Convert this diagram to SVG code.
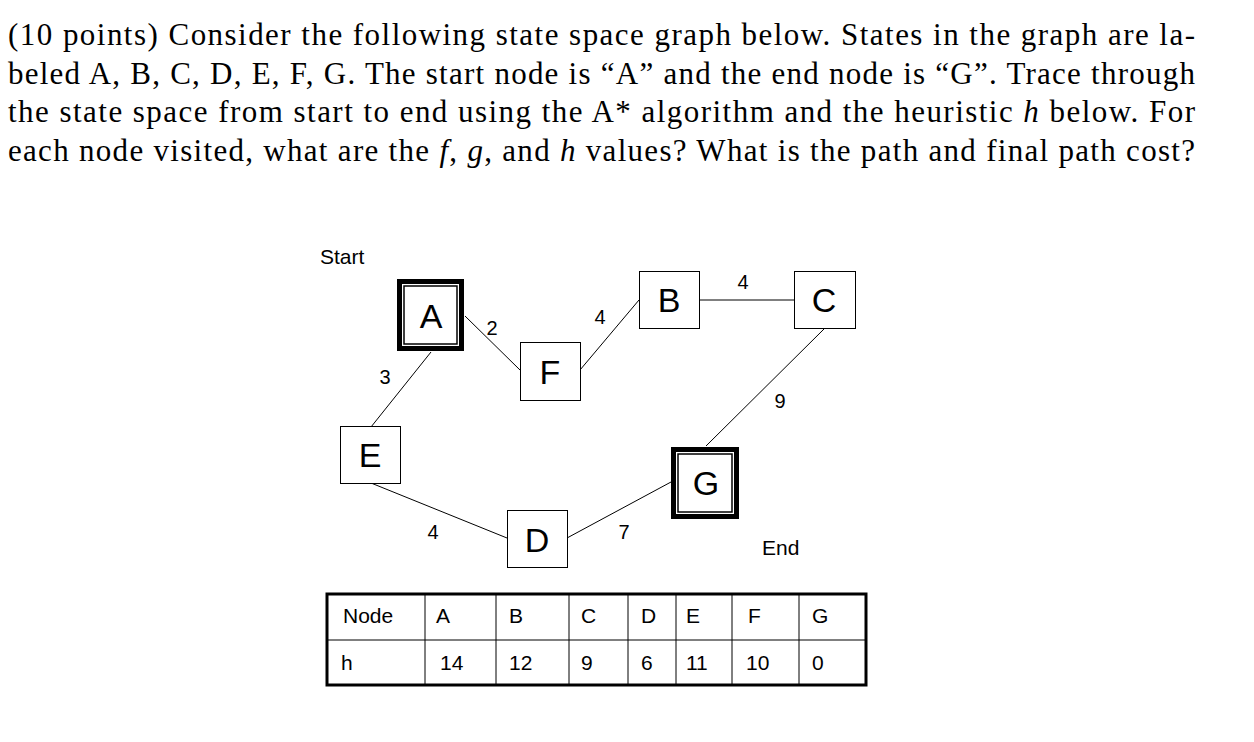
<svg xmlns="http://www.w3.org/2000/svg" width="1254" height="742" viewBox="0 0 1254 742">
<style>
.t{font-family:"Liberation Serif",serif;font-size:31px;fill:#000}
.s{font-family:"Liberation Sans",Arial,sans-serif;fill:#000}
.n{font-size:34px;text-anchor:middle}
.l{font-size:20px;text-anchor:middle}
.c{font-size:21px}
.box{fill:#fff;stroke:#000;stroke-width:1}
.dbl{fill:#fff;stroke:#000;stroke-width:5}
.in{fill:none;stroke:#000;stroke-width:1.5}
.e{stroke:#000;stroke-width:1;fill:none}
</style>
<rect width="1254" height="742" fill="#fff"/>
<text class="t" x="8" y="45" textLength="1187" lengthAdjust="spacing">(10 points) Consider the following state space graph below. States in the graph are la-</text>
<text class="t" x="8" y="84" textLength="1187" lengthAdjust="spacing">beled A, B, C, D, E, F, G. The start node is “A” and the end node is “G”. Trace through</text>
<text class="t" x="8" y="122" textLength="1187" lengthAdjust="spacing">the state space from start to end using the A* algorithm and the heuristic <tspan font-style="italic">h</tspan> below. For</text>
<text class="t" x="8" y="161" textLength="1187" lengthAdjust="spacing">each node visited, what are the <tspan font-style="italic">f</tspan>, <tspan font-style="italic">g</tspan>, and <tspan font-style="italic">h</tspan> values? What is the path and final path cost?</text>
<g id="connectors">
<line class="e" x1="465" y1="316" x2="520" y2="370"/>
<line class="e" x1="580" y1="370" x2="639" y2="300"/>
<line class="e" x1="699" y1="300" x2="794" y2="300"/>
<line class="e" x1="824" y1="329" x2="706" y2="446"/>
<line class="e" x1="671" y1="482" x2="567" y2="538"/>
<line class="e" x1="371" y1="483" x2="507" y2="538"/>
<line class="e" x1="431" y1="352" x2="371" y2="427"/>
<text class="s l" x="492" y="335">2</text>
<text class="s l" x="600" y="324">4</text>
<text class="s l" x="743" y="289">4</text>
<text class="s l" x="385" y="384">3</text>
<text class="s l" x="780" y="408">9</text>
<text class="s l" x="433" y="539">4</text>
<text class="s l" x="624" y="539">7</text>
</g>
<text class="s c" x="320" y="264">Start</text>
<text class="s c" x="762" y="555">End</text>
<g id="A"><rect class="dbl" x="399.5" y="281.5" width="62" height="67"/><rect class="in" x="404" y="286" width="53" height="58"/><text class="s n" x="431" y="328">A</text></g>
<g id="F"><rect class="box" x="520.5" y="342.5" width="60" height="58"/><text class="s n" x="550" y="384">F</text></g>
<g id="B"><rect class="box" x="639.5" y="271.5" width="60" height="57"/><text class="s n" x="669" y="312">B</text></g>
<g id="C"><rect class="box" x="794.5" y="271.5" width="61" height="57"/><text class="s n" x="824" y="312">C</text></g>
<g id="E"><rect class="box" x="340.5" y="426.5" width="60" height="57"/><text class="s n" x="370" y="467">E</text></g>
<g id="G"><rect class="dbl" x="673.5" y="449.5" width="63" height="67"/><rect class="in" x="678" y="454" width="54" height="58"/><text class="s n" x="706" y="495">G</text></g>
<g id="D"><rect class="box" x="507.5" y="510.5" width="60" height="57"/><text class="s n" x="537" y="552">D</text></g>
<g id="table" class="s">
<rect x="327" y="594" width="539" height="91" fill="#fff" stroke="#000" stroke-width="3"/>
<line class="e" x1="327" y1="640" x2="866" y2="640"/>
<line class="e" x1="425" y1="594" x2="425" y2="685"/>
<line class="e" x1="496" y1="594" x2="496" y2="685"/>
<line class="e" x1="569" y1="594" x2="569" y2="685"/>
<line class="e" x1="628" y1="594" x2="628" y2="685"/>
<line class="e" x1="676" y1="594" x2="676" y2="685"/>
<line class="e" x1="732" y1="594" x2="732" y2="685"/>
<line class="e" x1="799" y1="594" x2="799" y2="685"/>
<g class="c">
<text x="343" y="623">Node</text><text x="436" y="623">A</text><text x="509" y="623">B</text><text x="581" y="623">C</text><text x="641" y="623">D</text><text x="686" y="623">E</text><text x="748" y="623">F</text><text x="812" y="623">G</text>
<text x="341" y="670">h</text><text x="440" y="670">14</text><text x="509" y="670">12</text><text x="581" y="670">9</text><text x="641" y="670">6</text><text x="686" y="670">11</text><text x="746" y="670">10</text><text x="812" y="670">0</text>
</g>
</g>
</svg>
